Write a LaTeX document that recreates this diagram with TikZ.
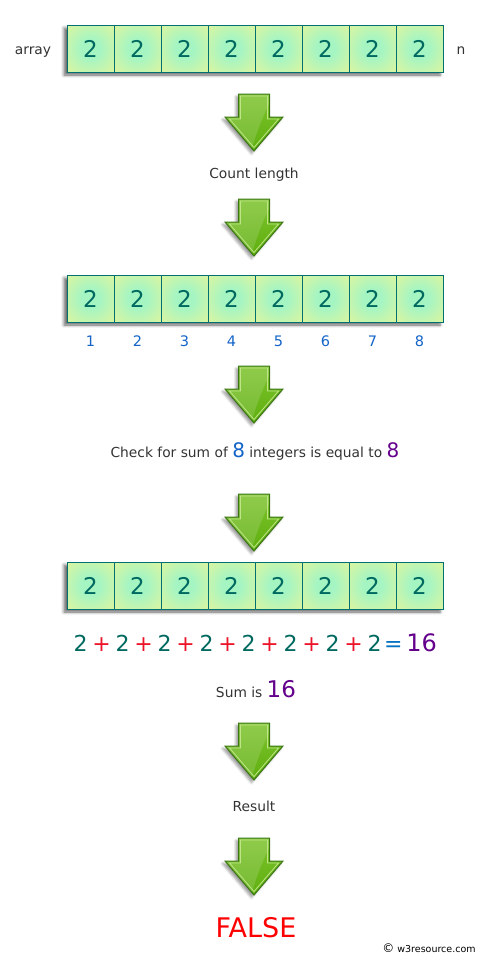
\documentclass[tikz,border=0pt]{standalone}
\usepackage{fontspec}
\setmainfont{DejaVu Sans}
\usetikzlibrary{shadows.blur}
\definecolor{cellborder}{RGB}{0,112,112}
\definecolor{celltext}{RGB}{0,105,95}
\definecolor{cellin}{RGB}{165,245,195}
\definecolor{cellout}{RGB}{238,245,148}
\definecolor{idxblue}{RGB}{20,100,200}
\definecolor{eqblue}{RGB}{0,112,192}
\definecolor{plusred}{RGB}{235,20,40}
\definecolor{purp}{RGB}{100,0,140}
\definecolor{txtgray}{RGB}{51,51,51}
\definecolor{falsered}{RGB}{255,0,0}
\definecolor{arrdark}{RGB}{60,118,20}
\definecolor{arrtop}{RGB}{125,195,45}
\definecolor{arrbot}{RGB}{95,175,15}
\definecolor{arrrim}{RGB}{190,230,135}
\pgfdeclareradialshading{cellshade}{\pgfpoint{0bp}{0bp}}{color(0bp)=(cellin); color(10bp)=(cellin); color(44bp)=(cellout); color(50bp)=(cellout)}
\tikzset{
  cell/.style={draw=cellborder, line width=0.8pt, minimum size=47pt, inner sep=0pt,
    shading=cellshade, text=celltext, font=\fontsize{23}{23}\selectfont},
  rowbg/.style={fill=white, minimum width=376pt, minimum height=47pt, inner sep=0pt,
    blur shadow={shadow xshift=-3pt, shadow yshift=-3pt, shadow blur radius=3pt, shadow opacity=60}},
  lbl/.style={text=txtgray, font=\fontsize{13.8}{16}\selectfont, inner sep=0pt, anchor=base},
  idx/.style={text=idxblue, font=\fontsize{14.5}{16}\selectfont, inner sep=0pt, anchor=base},
  eqtwo/.style={text=celltext, font=\fontsize{22}{24}\selectfont, inner sep=0pt, anchor=base},
  eqplus/.style={text=plusred, font=\fontsize{22}{24}\selectfont, inner sep=0pt, anchor=base},
  greenarrow/.pic={
    \path[blur shadow={shadow xshift=-2.5pt, shadow yshift=-2.5pt, shadow blur radius=2.5pt, shadow opacity=40},
      top color=arrtop, bottom color=arrbot]
      (-15.5,0) -- (15.5,0) -- (15.5,23) -- (29,23) -- (0,57) -- (-29,23) -- (-15.5,23) -- cycle;
    \begin{scope}
      \clip (-15.5,0) -- (15.5,0) -- (15.5,23) -- (29,23) -- (0,57) -- (-29,23) -- (-15.5,23) -- cycle;
      \fill[white, opacity=0.14] (-30,-1) -- (16,-1) -- (16,8) .. controls (8,24) and (2,40) .. (-3,58) -- (-30,58) -- cycle;
    \end{scope}
    \draw[arrrim, line width=0.8pt, line join=miter]
      (-13.5,2) -- (13.5,2) -- (13.5,25) -- (24.5,25) -- (0,53.5) -- (-24.5,25) -- (-13.5,25) -- cycle;
    \draw[arrdark, line width=1pt, line join=miter]
      (-15.5,0) -- (15.5,0) -- (15.5,23) -- (29,23) -- (0,57) -- (-29,23) -- (-15.5,23) -- cycle;
  }
}
\begin{document}
\begin{tikzpicture}[x=1pt, y=-1pt]
\useasboundingbox (0,0) rectangle (487,962);
% row 1
\node[rowbg] (row1) at (255,48.5) {};
\foreach \i in {1,...,8} {
  \node[cell] (a\i) at ({67+47*(\i-0.5)},48.5) {2};
}
\node[lbl] (arraylbl) at (33,54) {array};
\node[lbl] (nlbl) at (461,54) {n};
\pic (arrA) at (254,94) {greenarrow};
\node[lbl] (count) at (254,178) {Count length};
\pic (arrB) at (254,199) {greenarrow};
% row 2
\node[rowbg] (row2) at (255,298.5) {};
\foreach \i in {1,...,8} {
  \node[cell] (b\i) at ({67+47*(\i-0.5)},298.5) {2};
  \node[idx] (n\i) at ({67+47*(\i-0.5)},346) {\i};
}
\pic (arrC) at (254,366) {greenarrow};
\node[lbl] (check) at (255,457) {Check for sum of {\color{idxblue}\fontsize{20}{22}\selectfont 8} integers is equal to {\color{purp}\fontsize{20}{22}\selectfont 8}};
\pic (arrD) at (254,494) {greenarrow};
% row 3
\node[rowbg] (row3) at (255,585.5) {};
\foreach \i in {1,...,8} {
  \node[cell] (c\i) at ({67+47*(\i-0.5)},585.5) {2};
}
\foreach \k in {0,...,7} {
  \node[eqtwo] (t\k) at ({80.7+42*\k},651) {2};
}
\foreach \k in {0,...,6} {
  \node[eqplus] (p\k) at ({101.7+42*\k},651) {+};
}
\node[eqtwo, text=eqblue] (eq) at (393.3,651) {=};
\node[eqtwo, text=purp, font=\fontsize{24}{26}\selectfont] (sixteen) at (421.7,651) {16};
\node[lbl] (sum) at (256,697) {Sum is {\color{purp}\fontsize{23}{25}\selectfont 16}};
\pic (arrE) at (254,723) {greenarrow};
\node[lbl] (result) at (254,811) {Result};
\pic (arrF) at (254,838) {greenarrow};
\node[text=falsered, font=\fontsize{27}{30}\selectfont, inner sep=0pt, anchor=base] (false) at (256,937) {FALSE};
\node[text=black, font=\fontsize{9.5}{11}\selectfont, inner sep=0pt] (copy) at (429,948) {{\fontsize{12}{12}\selectfont ©} w3resource.com};
\end{tikzpicture}
\end{document}
